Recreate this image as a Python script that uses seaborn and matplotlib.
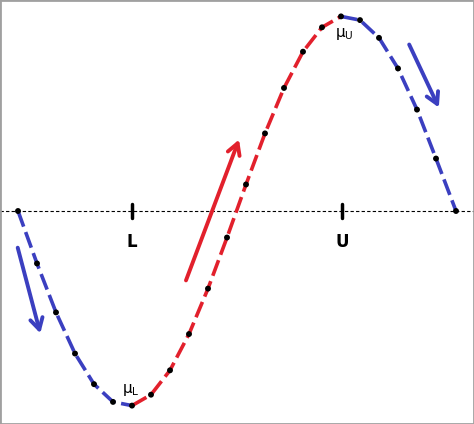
import matplotlib
matplotlib.use("Agg")
import matplotlib.pyplot as plt
import seaborn as sns
import pandas as pd

# dot positions (x in pixels-like units, y as amplitude)
xs = [18, 37, 56, 75, 94, 113, 132, 151, 170, 189, 208, 227, 246, 265, 284, 303, 322, 341, 360, 379, 398, 417, 436, 456]
ys = [0.0, -0.269, -0.520, -0.731, -0.888, -0.979, -0.998, -0.942, -0.817, -0.631, -0.398, -0.136,
      0.136, 0.398, 0.631, 0.817, 0.942, 0.998, 0.979, 0.888, 0.731, 0.520, 0.269, 0.0]
tick_labels = ["L", "U"]
tick_x = [132, 342]

sns.set_style("white")
plt.rcParams["text.color"] = "black"
fig = plt.figure(figsize=(4.74, 4.24), dpi=100)
ax = fig.add_axes([0, 0, 1, 1])
ax.set_xlim(0, 474)
ax.set_ylim(-213 / 195, 211 / 195)
ax.axis("off")

BLUE = "#3b3fc0"
RED = "#e2202c"
df = pd.DataFrame({"x": xs, "y": ys})
dash = (0, (4.6, 1.6))
sns.lineplot(x=df.x[:7], y=df.y[:7], color=BLUE, lw=2.6, linestyle=dash, sort=False, ax=ax)
sns.lineplot(x=df.x[6:18], y=df.y[6:18], color=RED, lw=2.6, linestyle=dash, sort=False, ax=ax)
sns.lineplot(x=df.x[17:], y=df.y[17:], color=BLUE, lw=2.6, linestyle=dash, sort=False, ax=ax)

ax.axhline(0, color="black", lw=0.8, ls=(0, (3, 2)), zorder=1)
sns.scatterplot(x=df.x, y=df.y, color="black", s=18, edgecolor="none", zorder=5, ax=ax)

for tx, tl in zip(tick_x, tick_labels):
    ax.plot([tx, tx], [0.035, -0.035], color="black", lw=2.5)
    ax.text(tx, -0.16, tl, ha="center", va="center", fontsize=12, fontweight="bold", color="black")

ax.text(131, -0.92, "μ$_\\mathrm{L}$", ha="center", va="center", fontsize=11, color="black")
ax.text(344, 0.91, "μ$_\\mathrm{U}$", ha="center", va="center", fontsize=11, color="black")

def arrow(x0, y0, x1, y1, c):
    ax.annotate("", xy=(x1, y1), xytext=(x0, y0),
                arrowprops=dict(arrowstyle="->,head_length=0.8,head_width=0.45", color=c, lw=2.8))

p = lambda py: (211 - py) / 195
arrow(17, p(245), 41, p(336), BLUE)
arrow(185, p(283), 240, p(137), RED)
arrow(408, p(42), 440, p(110), BLUE)

fig.patches.append(plt.Rectangle((0, 0), 1, 1, transform=fig.transFigure, fill=False,
                                 edgecolor="#a0a0a0", lw=2))
fig.savefig("out.png", dpi=100)
